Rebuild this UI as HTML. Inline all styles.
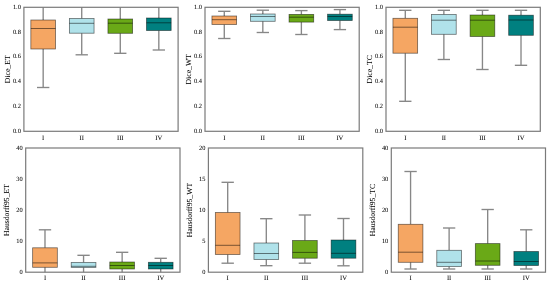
<!DOCTYPE html>
<html><head><meta charset="utf-8"><title>Box plots</title>
<style>
html,body{margin:0;padding:0;background:#fff;}
body{width:550px;height:285px;overflow:hidden;}
svg{display:block;}
svg text{text-rendering:geometricPrecision;font-family:"Liberation Serif","Times New Roman",serif;fill:#000000;stroke:#000000;stroke-width:0.04px;}
</style></head><body>
<svg width="550" height="285" viewBox="0 0 550 285">
<rect width="550" height="285" fill="#fff"/>
<line x1="43.17" y1="7.3" x2="43.17" y2="20" stroke="#878787" stroke-width="1.35"/>
<line x1="43.17" y1="49" x2="43.17" y2="87.5" stroke="#878787" stroke-width="1.35"/>
<line x1="37.01" y1="87.5" x2="49.34" y2="87.5" stroke="#878787" stroke-width="1.35"/>
<rect x="30.84" y="20" width="24.67" height="29" fill="#F5A663" stroke="#000" stroke-opacity="0.55" stroke-width="0.8"/>
<line x1="30.84" y1="28.5" x2="55.51" y2="28.5" stroke="#000" stroke-opacity="0.5" stroke-width="1.0"/>
<text x="43.17" y="139.5" text-anchor="middle" font-size="6.6">I</text>
<line x1="81.72" y1="7.3" x2="81.72" y2="18.5" stroke="#878787" stroke-width="1.35"/>
<line x1="81.72" y1="33.2" x2="81.72" y2="54.8" stroke="#878787" stroke-width="1.35"/>
<line x1="75.56" y1="54.8" x2="87.89" y2="54.8" stroke="#878787" stroke-width="1.35"/>
<rect x="69.39" y="18.5" width="24.67" height="14.7" fill="#B0E2EA" stroke="#000" stroke-opacity="0.55" stroke-width="0.8"/>
<line x1="69.39" y1="23.3" x2="94.06" y2="23.3" stroke="#000" stroke-opacity="0.5" stroke-width="1.0"/>
<text x="81.72" y="139.5" text-anchor="middle" font-size="6.6">II</text>
<line x1="120.28" y1="7.3" x2="120.28" y2="19" stroke="#878787" stroke-width="1.35"/>
<line x1="120.28" y1="33.3" x2="120.28" y2="53.3" stroke="#878787" stroke-width="1.35"/>
<line x1="114.11" y1="53.3" x2="126.44" y2="53.3" stroke="#878787" stroke-width="1.35"/>
<rect x="107.94" y="19" width="24.67" height="14.3" fill="#6AA917" stroke="#000" stroke-opacity="0.55" stroke-width="0.8"/>
<line x1="107.94" y1="23.2" x2="132.61" y2="23.2" stroke="#000" stroke-opacity="0.5" stroke-width="1.0"/>
<text x="120.28" y="139.5" text-anchor="middle" font-size="6.6">III</text>
<line x1="158.82" y1="7.3" x2="158.82" y2="18" stroke="#878787" stroke-width="1.35"/>
<line x1="158.82" y1="30.5" x2="158.82" y2="50" stroke="#878787" stroke-width="1.35"/>
<line x1="152.66" y1="50" x2="164.99" y2="50" stroke="#878787" stroke-width="1.35"/>
<rect x="146.49" y="18" width="24.67" height="12.5" fill="#008080" stroke="#000" stroke-opacity="0.55" stroke-width="0.8"/>
<line x1="146.49" y1="22.8" x2="171.16" y2="22.8" stroke="#000" stroke-opacity="0.5" stroke-width="1.0"/>
<text x="158.82" y="139.5" text-anchor="middle" font-size="6.6">IV</text>
<rect x="23.9" y="7.3" width="154.2" height="124" fill="none" stroke="#7a7a7a" stroke-width="1.2"/>
<text x="20.9" y="132.8" text-anchor="end" font-size="6.4">0.0</text>
<text x="20.9" y="108" text-anchor="end" font-size="6.4">0.2</text>
<text x="20.9" y="83.2" text-anchor="end" font-size="6.4">0.4</text>
<text x="20.9" y="58.4" text-anchor="end" font-size="6.4">0.6</text>
<text x="20.9" y="33.6" text-anchor="end" font-size="6.4">0.8</text>
<text x="20.9" y="8.8" text-anchor="end" font-size="6.4">1.0</text>
<text transform="translate(9.7,69.3) rotate(-90)" text-anchor="middle" font-size="7.7">Dice_ET</text>
<line x1="224.28" y1="11.3" x2="224.28" y2="16" stroke="#878787" stroke-width="1.35"/>
<line x1="224.28" y1="24.5" x2="224.28" y2="38.5" stroke="#878787" stroke-width="1.35"/>
<line x1="218.11" y1="11.3" x2="230.44" y2="11.3" stroke="#878787" stroke-width="1.35"/>
<line x1="218.11" y1="38.5" x2="230.44" y2="38.5" stroke="#878787" stroke-width="1.35"/>
<rect x="211.94" y="16" width="24.67" height="8.5" fill="#F5A663" stroke="#000" stroke-opacity="0.55" stroke-width="0.8"/>
<line x1="211.94" y1="19.7" x2="236.61" y2="19.7" stroke="#000" stroke-opacity="0.5" stroke-width="1.0"/>
<text x="224.28" y="139.5" text-anchor="middle" font-size="6.6">I</text>
<line x1="262.82" y1="10.2" x2="262.82" y2="14" stroke="#878787" stroke-width="1.35"/>
<line x1="262.82" y1="21.3" x2="262.82" y2="32.5" stroke="#878787" stroke-width="1.35"/>
<line x1="256.66" y1="10.2" x2="268.99" y2="10.2" stroke="#878787" stroke-width="1.35"/>
<line x1="256.66" y1="32.5" x2="268.99" y2="32.5" stroke="#878787" stroke-width="1.35"/>
<rect x="250.49" y="14" width="24.67" height="7.3" fill="#B0E2EA" stroke="#000" stroke-opacity="0.55" stroke-width="0.8"/>
<line x1="250.49" y1="16.5" x2="275.16" y2="16.5" stroke="#000" stroke-opacity="0.5" stroke-width="1.0"/>
<text x="262.82" y="139.5" text-anchor="middle" font-size="6.6">II</text>
<line x1="301.38" y1="10.6" x2="301.38" y2="14.4" stroke="#878787" stroke-width="1.35"/>
<line x1="301.38" y1="22.1" x2="301.38" y2="34.5" stroke="#878787" stroke-width="1.35"/>
<line x1="295.21" y1="10.6" x2="307.54" y2="10.6" stroke="#878787" stroke-width="1.35"/>
<line x1="295.21" y1="34.5" x2="307.54" y2="34.5" stroke="#878787" stroke-width="1.35"/>
<rect x="289.04" y="14.4" width="24.67" height="7.7" fill="#6AA917" stroke="#000" stroke-opacity="0.55" stroke-width="0.8"/>
<line x1="289.04" y1="17.2" x2="313.71" y2="17.2" stroke="#000" stroke-opacity="0.5" stroke-width="1.0"/>
<text x="301.38" y="139.5" text-anchor="middle" font-size="6.6">III</text>
<line x1="339.92" y1="9.6" x2="339.92" y2="14.2" stroke="#878787" stroke-width="1.35"/>
<line x1="339.92" y1="20.5" x2="339.92" y2="29.6" stroke="#878787" stroke-width="1.35"/>
<line x1="333.76" y1="9.6" x2="346.09" y2="9.6" stroke="#878787" stroke-width="1.35"/>
<line x1="333.76" y1="29.6" x2="346.09" y2="29.6" stroke="#878787" stroke-width="1.35"/>
<rect x="327.59" y="14.2" width="24.67" height="6.3" fill="#008080" stroke="#000" stroke-opacity="0.55" stroke-width="0.8"/>
<line x1="327.59" y1="16.5" x2="352.26" y2="16.5" stroke="#000" stroke-opacity="0.5" stroke-width="1.0"/>
<text x="339.92" y="139.5" text-anchor="middle" font-size="6.6">IV</text>
<rect x="205" y="7.3" width="154.2" height="124" fill="none" stroke="#7a7a7a" stroke-width="1.2"/>
<text x="202" y="132.8" text-anchor="end" font-size="6.4">0.0</text>
<text x="202" y="108" text-anchor="end" font-size="6.4">0.2</text>
<text x="202" y="83.2" text-anchor="end" font-size="6.4">0.4</text>
<text x="202" y="58.4" text-anchor="end" font-size="6.4">0.6</text>
<text x="202" y="33.6" text-anchor="end" font-size="6.4">0.8</text>
<text x="202" y="8.8" text-anchor="end" font-size="6.4">1.0</text>
<text transform="translate(190.8,69.3) rotate(-90)" text-anchor="middle" font-size="7.7">Dice_WT</text>
<line x1="405.29" y1="10.3" x2="405.29" y2="18.3" stroke="#878787" stroke-width="1.35"/>
<line x1="405.29" y1="53.2" x2="405.29" y2="101.3" stroke="#878787" stroke-width="1.35"/>
<line x1="399.12" y1="10.3" x2="411.46" y2="10.3" stroke="#878787" stroke-width="1.35"/>
<line x1="399.12" y1="101.3" x2="411.46" y2="101.3" stroke="#878787" stroke-width="1.35"/>
<rect x="392.94" y="18.3" width="24.69" height="34.9" fill="#F5A663" stroke="#000" stroke-opacity="0.55" stroke-width="0.8"/>
<line x1="392.94" y1="27.2" x2="417.63" y2="27.2" stroke="#000" stroke-opacity="0.5" stroke-width="1.0"/>
<text x="405.29" y="139.5" text-anchor="middle" font-size="6.6">I</text>
<line x1="443.86" y1="10.3" x2="443.86" y2="14.5" stroke="#878787" stroke-width="1.35"/>
<line x1="443.86" y1="34.3" x2="443.86" y2="59.5" stroke="#878787" stroke-width="1.35"/>
<line x1="437.69" y1="10.3" x2="450.03" y2="10.3" stroke="#878787" stroke-width="1.35"/>
<line x1="437.69" y1="59.5" x2="450.03" y2="59.5" stroke="#878787" stroke-width="1.35"/>
<rect x="431.52" y="14.5" width="24.69" height="19.8" fill="#B0E2EA" stroke="#000" stroke-opacity="0.55" stroke-width="0.8"/>
<line x1="431.52" y1="20.2" x2="456.21" y2="20.2" stroke="#000" stroke-opacity="0.5" stroke-width="1.0"/>
<text x="443.86" y="139.5" text-anchor="middle" font-size="6.6">II</text>
<line x1="482.44" y1="10.3" x2="482.44" y2="15" stroke="#878787" stroke-width="1.35"/>
<line x1="482.44" y1="36.5" x2="482.44" y2="69.5" stroke="#878787" stroke-width="1.35"/>
<line x1="476.27" y1="10.3" x2="488.61" y2="10.3" stroke="#878787" stroke-width="1.35"/>
<line x1="476.27" y1="69.5" x2="488.61" y2="69.5" stroke="#878787" stroke-width="1.35"/>
<rect x="470.09" y="15" width="24.69" height="21.5" fill="#6AA917" stroke="#000" stroke-opacity="0.55" stroke-width="0.8"/>
<line x1="470.09" y1="20.2" x2="494.78" y2="20.2" stroke="#000" stroke-opacity="0.5" stroke-width="1.0"/>
<text x="482.44" y="139.5" text-anchor="middle" font-size="6.6">III</text>
<line x1="521.01" y1="10.3" x2="521.01" y2="15.2" stroke="#878787" stroke-width="1.35"/>
<line x1="521.01" y1="35.3" x2="521.01" y2="65.3" stroke="#878787" stroke-width="1.35"/>
<line x1="514.84" y1="10.3" x2="527.18" y2="10.3" stroke="#878787" stroke-width="1.35"/>
<line x1="514.84" y1="65.3" x2="527.18" y2="65.3" stroke="#878787" stroke-width="1.35"/>
<rect x="508.67" y="15.2" width="24.69" height="20.1" fill="#008080" stroke="#000" stroke-opacity="0.55" stroke-width="0.8"/>
<line x1="508.67" y1="20" x2="533.36" y2="20" stroke="#000" stroke-opacity="0.5" stroke-width="1.0"/>
<text x="521.01" y="139.5" text-anchor="middle" font-size="6.6">IV</text>
<rect x="386" y="7.3" width="154.3" height="124" fill="none" stroke="#7a7a7a" stroke-width="1.2"/>
<text x="383" y="132.8" text-anchor="end" font-size="6.4">0.0</text>
<text x="383" y="108" text-anchor="end" font-size="6.4">0.2</text>
<text x="383" y="83.2" text-anchor="end" font-size="6.4">0.4</text>
<text x="383" y="58.4" text-anchor="end" font-size="6.4">0.6</text>
<text x="383" y="33.6" text-anchor="end" font-size="6.4">0.8</text>
<text x="383" y="8.8" text-anchor="end" font-size="6.4">1.0</text>
<text transform="translate(371.8,69.3) rotate(-90)" text-anchor="middle" font-size="7.7">Dice_TC</text>
<line x1="44.99" y1="229.8" x2="44.99" y2="247.8" stroke="#878787" stroke-width="1.35"/>
<line x1="44.99" y1="267.3" x2="44.99" y2="272.2" stroke="#878787" stroke-width="1.35"/>
<line x1="38.82" y1="229.8" x2="51.16" y2="229.8" stroke="#878787" stroke-width="1.35"/>
<rect x="32.64" y="247.8" width="24.69" height="19.5" fill="#F5A663" stroke="#000" stroke-opacity="0.55" stroke-width="0.8"/>
<line x1="32.64" y1="262.9" x2="57.33" y2="262.9" stroke="#000" stroke-opacity="0.5" stroke-width="1.0"/>
<text x="44.99" y="280.4" text-anchor="middle" font-size="6.6">I</text>
<line x1="83.56" y1="255.3" x2="83.56" y2="262.4" stroke="#878787" stroke-width="1.35"/>
<line x1="83.56" y1="267.4" x2="83.56" y2="272.2" stroke="#878787" stroke-width="1.35"/>
<line x1="77.39" y1="255.3" x2="89.73" y2="255.3" stroke="#878787" stroke-width="1.35"/>
<rect x="71.22" y="262.4" width="24.69" height="5" fill="#B0E2EA" stroke="#000" stroke-opacity="0.55" stroke-width="0.8"/>
<line x1="71.22" y1="266.3" x2="95.91" y2="266.3" stroke="#000" stroke-opacity="0.5" stroke-width="1.0"/>
<text x="83.56" y="280.4" text-anchor="middle" font-size="6.6">II</text>
<line x1="122.14" y1="252.3" x2="122.14" y2="262" stroke="#878787" stroke-width="1.35"/>
<line x1="122.14" y1="269" x2="122.14" y2="272.2" stroke="#878787" stroke-width="1.35"/>
<line x1="115.97" y1="252.3" x2="128.31" y2="252.3" stroke="#878787" stroke-width="1.35"/>
<rect x="109.79" y="262" width="24.69" height="7" fill="#6AA917" stroke="#000" stroke-opacity="0.55" stroke-width="0.8"/>
<line x1="109.79" y1="265.5" x2="134.48" y2="265.5" stroke="#000" stroke-opacity="0.5" stroke-width="1.0"/>
<text x="122.14" y="280.4" text-anchor="middle" font-size="6.6">III</text>
<line x1="160.71" y1="258.3" x2="160.71" y2="262.3" stroke="#878787" stroke-width="1.35"/>
<line x1="160.71" y1="269" x2="160.71" y2="272.2" stroke="#878787" stroke-width="1.35"/>
<line x1="154.54" y1="258.3" x2="166.88" y2="258.3" stroke="#878787" stroke-width="1.35"/>
<rect x="148.37" y="262.3" width="24.69" height="6.7" fill="#008080" stroke="#000" stroke-opacity="0.55" stroke-width="0.8"/>
<line x1="148.37" y1="265.5" x2="173.06" y2="265.5" stroke="#000" stroke-opacity="0.5" stroke-width="1.0"/>
<text x="160.71" y="280.4" text-anchor="middle" font-size="6.6">IV</text>
<rect x="25.7" y="148" width="154.3" height="124.2" fill="none" stroke="#7a7a7a" stroke-width="1.2"/>
<text x="22.7" y="273.7" text-anchor="end" font-size="6.4">0</text>
<text x="22.7" y="242.65" text-anchor="end" font-size="6.4">10</text>
<text x="22.7" y="211.6" text-anchor="end" font-size="6.4">20</text>
<text x="22.7" y="180.55" text-anchor="end" font-size="6.4">30</text>
<text x="22.7" y="149.5" text-anchor="end" font-size="6.4">40</text>
<text transform="translate(9.1,210.1) rotate(-90)" text-anchor="middle" font-size="7.7">Hausdorff95_ET</text>
<line x1="227.7" y1="182.3" x2="227.7" y2="212.5" stroke="#878787" stroke-width="1.35"/>
<line x1="227.7" y1="254.5" x2="227.7" y2="263.2" stroke="#878787" stroke-width="1.35"/>
<line x1="221.52" y1="182.3" x2="233.88" y2="182.3" stroke="#878787" stroke-width="1.35"/>
<line x1="221.52" y1="263.2" x2="233.88" y2="263.2" stroke="#878787" stroke-width="1.35"/>
<rect x="215.35" y="212.5" width="24.7" height="42" fill="#F5A663" stroke="#000" stroke-opacity="0.55" stroke-width="0.8"/>
<line x1="215.35" y1="245.3" x2="240.05" y2="245.3" stroke="#000" stroke-opacity="0.5" stroke-width="1.0"/>
<text x="227.7" y="280.4" text-anchor="middle" font-size="6.6">I</text>
<line x1="266.3" y1="218.7" x2="266.3" y2="243" stroke="#878787" stroke-width="1.35"/>
<line x1="266.3" y1="259.5" x2="266.3" y2="265.7" stroke="#878787" stroke-width="1.35"/>
<line x1="260.12" y1="218.7" x2="272.48" y2="218.7" stroke="#878787" stroke-width="1.35"/>
<line x1="260.12" y1="265.7" x2="272.48" y2="265.7" stroke="#878787" stroke-width="1.35"/>
<rect x="253.95" y="243" width="24.7" height="16.5" fill="#B0E2EA" stroke="#000" stroke-opacity="0.55" stroke-width="0.8"/>
<line x1="253.95" y1="253.5" x2="278.65" y2="253.5" stroke="#000" stroke-opacity="0.5" stroke-width="1.0"/>
<text x="266.3" y="280.4" text-anchor="middle" font-size="6.6">II</text>
<line x1="304.9" y1="215" x2="304.9" y2="240.5" stroke="#878787" stroke-width="1.35"/>
<line x1="304.9" y1="258.2" x2="304.9" y2="263.2" stroke="#878787" stroke-width="1.35"/>
<line x1="298.72" y1="215" x2="311.08" y2="215" stroke="#878787" stroke-width="1.35"/>
<line x1="298.72" y1="263.2" x2="311.08" y2="263.2" stroke="#878787" stroke-width="1.35"/>
<rect x="292.55" y="240.5" width="24.7" height="17.7" fill="#6AA917" stroke="#000" stroke-opacity="0.55" stroke-width="0.8"/>
<line x1="292.55" y1="252.4" x2="317.25" y2="252.4" stroke="#000" stroke-opacity="0.5" stroke-width="1.0"/>
<text x="304.9" y="280.4" text-anchor="middle" font-size="6.6">III</text>
<line x1="343.5" y1="218.5" x2="343.5" y2="240" stroke="#878787" stroke-width="1.35"/>
<line x1="343.5" y1="258.2" x2="343.5" y2="265.8" stroke="#878787" stroke-width="1.35"/>
<line x1="337.32" y1="218.5" x2="349.68" y2="218.5" stroke="#878787" stroke-width="1.35"/>
<line x1="337.32" y1="265.8" x2="349.68" y2="265.8" stroke="#878787" stroke-width="1.35"/>
<rect x="331.15" y="240" width="24.7" height="18.2" fill="#008080" stroke="#000" stroke-opacity="0.55" stroke-width="0.8"/>
<line x1="331.15" y1="253.3" x2="355.85" y2="253.3" stroke="#000" stroke-opacity="0.5" stroke-width="1.0"/>
<text x="343.5" y="280.4" text-anchor="middle" font-size="6.6">IV</text>
<rect x="208.4" y="148" width="154.4" height="124.2" fill="none" stroke="#7a7a7a" stroke-width="1.2"/>
<text x="205.4" y="273.7" text-anchor="end" font-size="6.4">0</text>
<text x="205.4" y="242.65" text-anchor="end" font-size="6.4">5</text>
<text x="205.4" y="211.6" text-anchor="end" font-size="6.4">10</text>
<text x="205.4" y="180.55" text-anchor="end" font-size="6.4">15</text>
<text x="205.4" y="149.5" text-anchor="end" font-size="6.4">20</text>
<text transform="translate(191.8,210.1) rotate(-90)" text-anchor="middle" font-size="7.7">Hausdorff95_WT</text>
<line x1="410.57" y1="171.5" x2="410.57" y2="224.3" stroke="#878787" stroke-width="1.35"/>
<line x1="410.57" y1="262.3" x2="410.57" y2="269" stroke="#878787" stroke-width="1.35"/>
<line x1="404.41" y1="171.5" x2="416.74" y2="171.5" stroke="#878787" stroke-width="1.35"/>
<line x1="404.41" y1="269" x2="416.74" y2="269" stroke="#878787" stroke-width="1.35"/>
<rect x="398.24" y="224.3" width="24.67" height="38" fill="#F5A663" stroke="#000" stroke-opacity="0.55" stroke-width="0.8"/>
<line x1="398.24" y1="252.2" x2="422.91" y2="252.2" stroke="#000" stroke-opacity="0.5" stroke-width="1.0"/>
<text x="410.57" y="280.4" text-anchor="middle" font-size="6.6">I</text>
<line x1="449.12" y1="228" x2="449.12" y2="250.3" stroke="#878787" stroke-width="1.35"/>
<line x1="449.12" y1="266.5" x2="449.12" y2="269" stroke="#878787" stroke-width="1.35"/>
<line x1="442.96" y1="228" x2="455.29" y2="228" stroke="#878787" stroke-width="1.35"/>
<line x1="442.96" y1="269" x2="455.29" y2="269" stroke="#878787" stroke-width="1.35"/>
<rect x="436.79" y="250.3" width="24.67" height="16.2" fill="#B0E2EA" stroke="#000" stroke-opacity="0.55" stroke-width="0.8"/>
<line x1="436.79" y1="262.3" x2="461.46" y2="262.3" stroke="#000" stroke-opacity="0.5" stroke-width="1.0"/>
<text x="449.12" y="280.4" text-anchor="middle" font-size="6.6">II</text>
<line x1="487.68" y1="209.5" x2="487.68" y2="243.6" stroke="#878787" stroke-width="1.35"/>
<line x1="487.68" y1="265.3" x2="487.68" y2="269" stroke="#878787" stroke-width="1.35"/>
<line x1="481.51" y1="209.5" x2="493.84" y2="209.5" stroke="#878787" stroke-width="1.35"/>
<line x1="481.51" y1="269" x2="493.84" y2="269" stroke="#878787" stroke-width="1.35"/>
<rect x="475.34" y="243.6" width="24.67" height="21.7" fill="#6AA917" stroke="#000" stroke-opacity="0.55" stroke-width="0.8"/>
<line x1="475.34" y1="261" x2="500.01" y2="261" stroke="#000" stroke-opacity="0.5" stroke-width="1.0"/>
<text x="487.68" y="280.4" text-anchor="middle" font-size="6.6">III</text>
<line x1="526.23" y1="229.8" x2="526.23" y2="251.5" stroke="#878787" stroke-width="1.35"/>
<line x1="526.23" y1="265.5" x2="526.23" y2="269" stroke="#878787" stroke-width="1.35"/>
<line x1="520.06" y1="229.8" x2="532.39" y2="229.8" stroke="#878787" stroke-width="1.35"/>
<line x1="520.06" y1="269" x2="532.39" y2="269" stroke="#878787" stroke-width="1.35"/>
<rect x="513.89" y="251.5" width="24.67" height="14" fill="#008080" stroke="#000" stroke-opacity="0.55" stroke-width="0.8"/>
<line x1="513.89" y1="261.5" x2="538.56" y2="261.5" stroke="#000" stroke-opacity="0.5" stroke-width="1.0"/>
<text x="526.23" y="280.4" text-anchor="middle" font-size="6.6">IV</text>
<rect x="391.3" y="148" width="154.2" height="124.2" fill="none" stroke="#7a7a7a" stroke-width="1.2"/>
<text x="388.3" y="273.7" text-anchor="end" font-size="6.4">0</text>
<text x="388.3" y="242.65" text-anchor="end" font-size="6.4">10</text>
<text x="388.3" y="211.6" text-anchor="end" font-size="6.4">20</text>
<text x="388.3" y="180.55" text-anchor="end" font-size="6.4">30</text>
<text x="388.3" y="149.5" text-anchor="end" font-size="6.4">40</text>
<text transform="translate(374.7,210.1) rotate(-90)" text-anchor="middle" font-size="7.7">Hausdorff95_TC</text>
</svg>
</body></html>
